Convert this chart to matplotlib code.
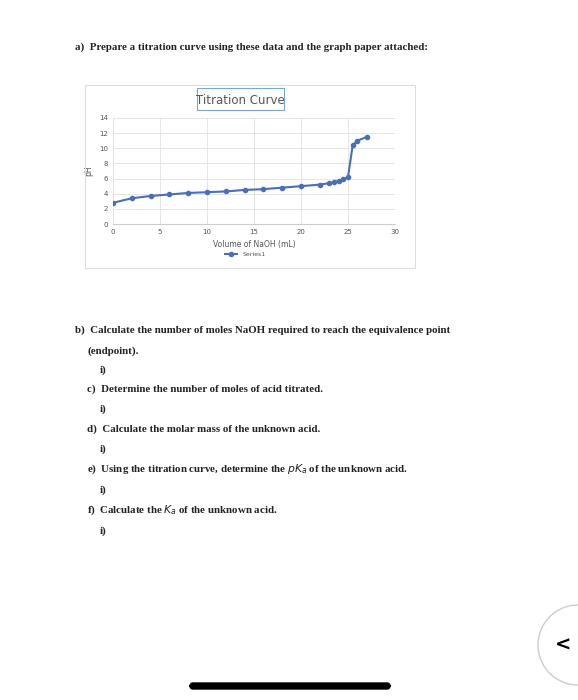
import matplotlib.pyplot as plt
from matplotlib.patches import Rectangle, FancyBboxPatch, Ellipse

volume = [0, 2, 4, 6, 8, 10, 12, 14, 16, 18, 20, 22, 23, 23.5, 24, 24.5, 25, 25.5, 26, 27]
ph = [2.8, 3.4, 3.7, 3.9, 4.1, 4.2, 4.3, 4.5, 4.6, 4.8, 5.0, 5.2, 5.4, 5.5, 5.7, 5.9, 6.2, 10.4, 11.0, 11.5]

W, H = 578, 700
fig = plt.figure(figsize=(W / 100, H / 100), dpi=100)
fig.patch.set_facecolor('white')

def fx(px):
    return px / W

def fy(py):
    return 1 - py / H

# chart border box
fig.patches.append(Rectangle((fx(85), fy(268)), fx(330), 183 / H, transform=fig.transFigure,
                             fill=False, edgecolor='#dddddd', lw=0.8))

ax = fig.add_axes([fx(113), fy(224), fx(395 - 113), (224 - 118) / H])
ax.plot(volume, ph, color='#4a6fb5', marker='o', markersize=3, lw=1.5)
ax.set_xlim(0, 30)
ax.set_ylim(0, 14)
ax.set_xticks(range(0, 31, 5))
ax.set_yticks(range(0, 15, 2))
ax.grid(color='#e0e0e0', lw=0.6)
for s in ax.spines.values():
    s.set_visible(False)
ax.spines['bottom'].set_visible(True)
ax.spines['bottom'].set_color('#cccccc')
ax.tick_params(length=0, labelsize=5, colors='#555555')
ax.set_xlabel('Volume of NaOH (mL)', fontsize=5.5, color='#555555')
ax.set_ylabel('pH', fontsize=5.5, color='#555555')

# title with selection box
fig.text(fx(240), fy(100), 'Titration Curve', fontsize=8.5, color='#555555', ha='center', va='center')
fig.patches.append(Rectangle((fx(197), fy(110)), fx(87), 22 / H, transform=fig.transFigure,
                             fill=False, edgecolor='#7aa7d6', lw=0.8))

# legend
ax.plot([], [], color='#4a6fb5', marker='o', markersize=3, lw=1.5, label='Series1')
fig.legend(loc='center', bbox_to_anchor=(fx(245), fy(254)), fontsize=4.5, frameon=False,
           handlelength=2, labelcolor='#555555')

serif = 'Liberation Serif'
fs = 7.8
fig.text(fx(75), fy(47), 'a)  Prepare a titration curve using these data and the graph paper attached:',
         fontsize=fs, family=serif, va='center', weight='bold', color='#222222')
lines = [
    (75, 330, 'b)  Calculate the number of moles NaOH required to reach the equivalence point'),
    (87, 351, '(endpoint).'),
    (100, 370, 'i)'),
    (87, 389, 'c)  Determine the number of moles of acid titrated.'),
    (100, 409, 'i)'),
    (87, 429, 'd)  Calculate the molar mass of the unknown acid.'),
    (100, 449, 'i)'),
    (87, 469, 'e)  Using the titration curve, determine the $pK_a$ of the unknown acid.'),
    (100, 490, 'i)'),
    (87, 510, 'f)  Calculate the $K_a$ of the unknown acid.'),
    (100, 531, 'i)'),
]
for x, y, t in lines:
    fig.text(fx(x), fy(y), t, fontsize=fs, family=serif, va='center', weight='bold', color='#222222')

# bottom bar and chevron
fig.patches.append(FancyBboxPatch((fx(190), fy(689)), fx(200), 6 / H, boxstyle='round,pad=0,rounding_size=0.005',
                                  transform=fig.transFigure, color='black'))
fig.patches.append(Ellipse((fx(578), fy(645)), fx(80), 80 / H, transform=fig.transFigure,
                           facecolor='white', edgecolor='#cccccc', lw=1))
fig.text(fx(563), fy(645), '<', fontsize=14, ha='center', va='center', weight='bold')

fig.savefig('out.png', dpi=100)
